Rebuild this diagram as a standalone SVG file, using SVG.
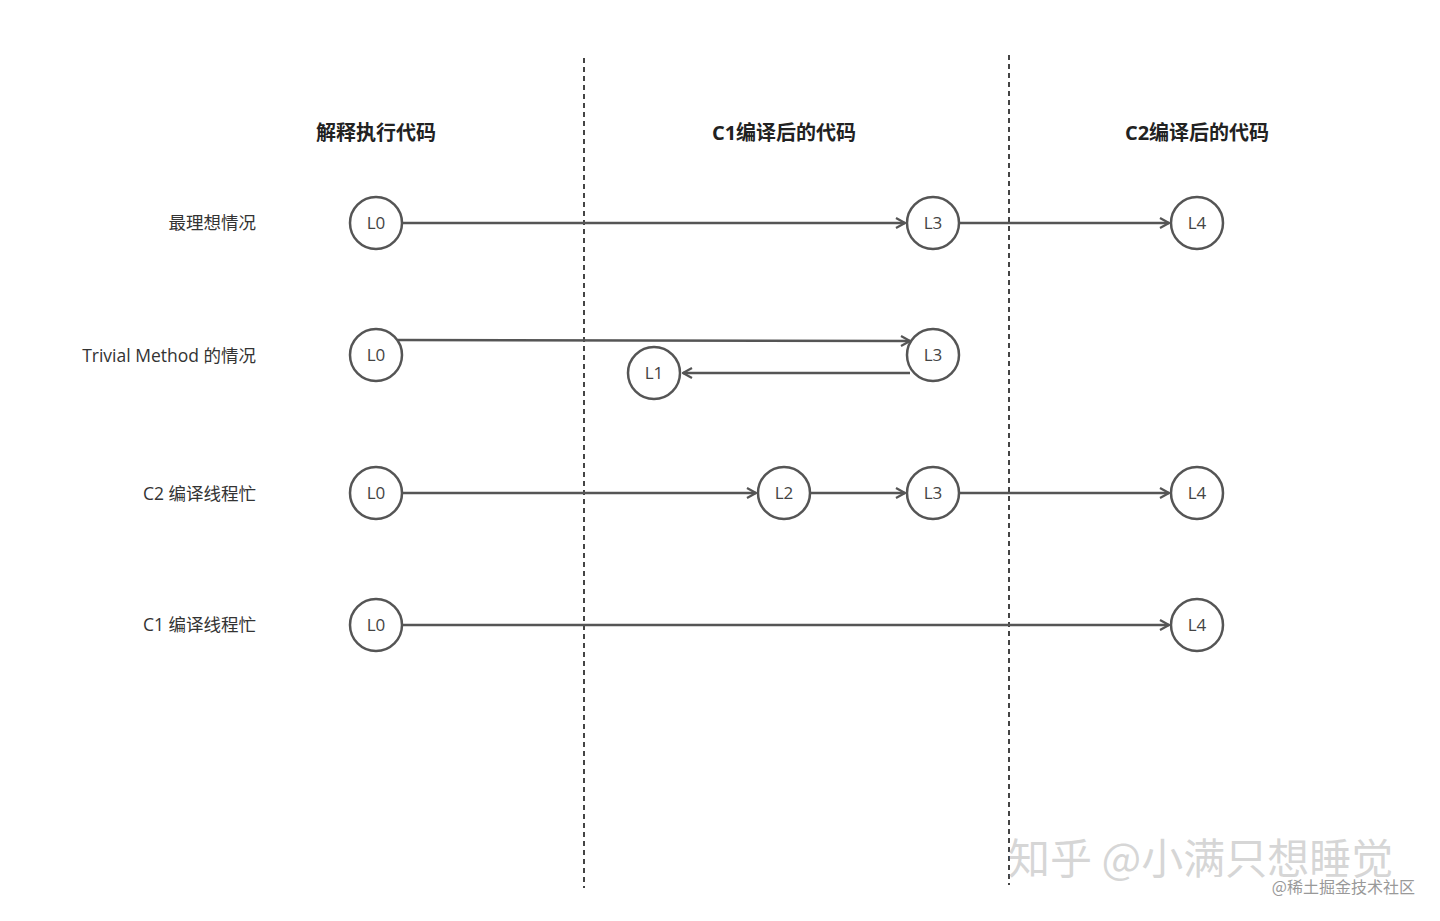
<svg xmlns="http://www.w3.org/2000/svg" width="1440" height="921" viewBox="0 0 1440 921">
<style>
.n circle{fill:#fff;stroke:#555;stroke-width:2.5}
.n text{font:17px "Open Sans","Noto Sans CJK SC",sans-serif;fill:#444;text-anchor:middle}
.h{font:bold 20px "Open Sans","Noto Sans CJK SC",sans-serif;fill:#222;text-anchor:middle}
.l{font:17.5px "Open Sans","Noto Sans CJK SC",sans-serif;fill:#333;text-anchor:end}
.c line{stroke:#555;stroke-width:2.5;marker-end:url(#a)}
.d{stroke:#444;stroke-width:2;stroke-dasharray:5 4}
</style>
<defs><marker id="a" viewBox="0 0 12 12" refX="11" refY="6" markerWidth="12" markerHeight="12" markerUnits="userSpaceOnUse" orient="auto"><path d="M2 1L11 6L2 11" fill="none" stroke="#555" stroke-width="2.2"/></marker></defs>
<rect width="1440" height="921" fill="#fff"/>
<line class="d" x1="584" y1="58" x2="584" y2="888"/>
<line class="d" x1="1009" y1="55" x2="1009" y2="885"/>
<text class="h" x="376" y="140">解释执行代码</text>
<text class="h" x="784" y="140">C1编译后的代码</text>
<text class="h" x="1197" y="140">C2编译后的代码</text>
<text class="l" x="256" y="229">最理想情况</text>
<text class="l" x="256" y="362">Trivial Method 的情况</text>
<text class="l" x="256" y="500">C2 编译线程忙</text>
<text class="l" x="256" y="631">C1 编译线程忙</text>
<g class="c">
<line x1="402" y1="223" x2="905" y2="223"/>
<line x1="959" y1="223" x2="1169" y2="223"/>
<line x1="398" y1="340" x2="910" y2="341"/>
<line x1="910" y1="373" x2="683" y2="373"/>
<line x1="402" y1="493" x2="756" y2="493"/>
<line x1="810" y1="493" x2="905" y2="493"/>
<line x1="959" y1="493" x2="1169" y2="493"/>
<line x1="402" y1="625" x2="1169" y2="625"/>
</g>
<g id="r1l0" class="n"><circle cx="376" cy="223" r="26"/><text x="376" y="229">L0</text></g>
<g id="r1l3" class="n"><circle cx="933" cy="223" r="26"/><text x="933" y="229">L3</text></g>
<g id="r1l4" class="n"><circle cx="1197" cy="223" r="26"/><text x="1197" y="229">L4</text></g>
<g id="r2l0" class="n"><circle cx="376" cy="355" r="26"/><text x="376" y="361">L0</text></g>
<g id="r2l3" class="n"><circle cx="933" cy="355" r="26"/><text x="933" y="361">L3</text></g>
<g id="r2l1" class="n"><circle cx="654" cy="373" r="26"/><text x="654" y="379">L1</text></g>
<g id="r3l0" class="n"><circle cx="376" cy="493" r="26"/><text x="376" y="499">L0</text></g>
<g id="r3l2" class="n"><circle cx="784" cy="493" r="26"/><text x="784" y="499">L2</text></g>
<g id="r3l3" class="n"><circle cx="933" cy="493" r="26"/><text x="933" y="499">L3</text></g>
<g id="r3l4" class="n"><circle cx="1197" cy="493" r="26"/><text x="1197" y="499">L4</text></g>
<g id="r4l0" class="n"><circle cx="376" cy="625" r="26"/><text x="376" y="631">L0</text></g>
<g id="r4l4" class="n"><circle cx="1197" cy="625" r="26"/><text x="1197" y="631">L4</text></g>
<text x="1008" y="874" font-family="Noto Sans CJK SC,sans-serif" font-size="42" fill="#bbb" fill-opacity="0.6">知乎 @小满只想睡觉</text>
<text x="1415" y="893" font-family="Noto Sans CJK SC,sans-serif" font-size="16" fill="#999" text-anchor="end">@稀土掘金技术社区</text>
</svg>
